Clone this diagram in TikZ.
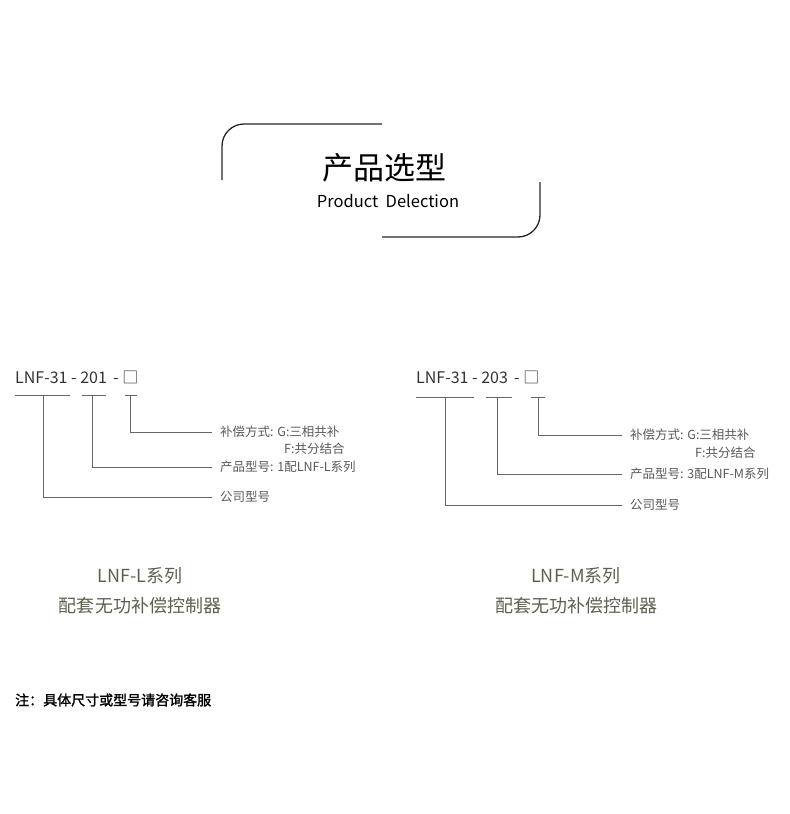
\documentclass[tikz,border=0pt]{standalone}
\usepackage{fontspec}
\setmainfont{Noto Sans CJK SC}
\newfontfamily\cjkb[FakeBold=1.5]{Noto Sans CJK SC}
\begin{document}
\begin{tikzpicture}[x=1bp,y=-1bp,
  lbl/.style={anchor=west,inner sep=0,text=black!65,font=\fontsize{12.5bp}{14bp}\selectfont},
  code/.style={anchor=west,inner sep=0,text=black!80,font=\fontsize{16bp}{18bp}\selectfont},
  captxt/.style={inner sep=0,text={rgb,255:red,95;green,95;blue,80},font=\fontsize{18bp}{20bp}\selectfont},
  ln/.style={draw=black!60,line width=0.6bp},
  frame/.style={draw=black!85,line width=1.3bp}]
\useasboundingbox (0,0) rectangle (790,814);
% title frame
\coordinate (tl) at (222,180);
\coordinate (tr) at (382,124);
\coordinate (br) at (540,182);
\coordinate (bl) at (382,237);
\draw[frame] (tl) -- (222,146) arc[start angle=180,end angle=270,radius=22] -- (tr);
\draw[frame] (br) -- (540,215) arc[start angle=0,end angle=90,radius=22] -- (bl);
\node[inner sep=0,font=\fontsize{31bp}{33bp}\selectfont] (t1) at (384,168) {产品选型};
\node[inner sep=0,font=\fontsize{16.5bp}{18bp}\selectfont] (t2) at (388,201) {Product\ \ Delection};
% left
\node[code] (c1) at (15,377) {LNF-31 - 201 \,- □};
\coordinate (a1) at (43,395); \coordinate (a2) at (92,395); \coordinate (a3) at (130,395);
\draw[ln] (15,395) -- (70,395); \draw[ln] (82,395) -- (106,395); \draw[ln] (125,395) -- (137,395);
\node[lbl] (l3) at (220,432) {补偿方式: G:三相共补};
\node[lbl] (l3b) at (284,449) {F:共分结合};
\node[lbl] (l2) at (220,467) {产品型号: 1配LNF-L系列};
\node[lbl] (l1) at (220,497) {公司型号};
\draw[ln] (a3) |- ([xshift=-8bp]l3.west);
\draw[ln] (a2) |- ([xshift=-8bp]l2.west);
\draw[ln] (a1) |- ([xshift=-8bp]l1.west);
% right
\node[code] (c2) at (416,377) {LNF-31 - 203 \,- □};
\coordinate (b1) at (445,397); \coordinate (b2) at (497,397); \coordinate (b3) at (538,397);
\draw[ln] (416,397) -- (474,397); \draw[ln] (486,397) -- (512,397); \draw[ln] (531,397) -- (545,397);
\node[lbl] (r3) at (630,435) {补偿方式: G:三相共补};
\node[lbl] (r3b) at (695,453) {F:共分结合};
\node[lbl] (r2) at (630,474) {产品型号: 3配LNF-M系列};
\node[lbl] (r1) at (630,505) {公司型号};
\draw[ln] (b3) |- ([xshift=-8bp]r3.west);
\draw[ln] (b2) |- ([xshift=-8bp]r2.west);
\draw[ln] (b1) |- ([xshift=-8bp]r1.west);
% captions
\node[captxt] (k1) at (140,576) {LNF-L系列};
\node[captxt] (k2) at (140,606) {配套无功补偿控制器};
\node[captxt] (k3) at (576,576) {LNF-M系列};
\node[captxt] (k4) at (576,606) {配套无功补偿控制器};
\node[anchor=west,inner sep=0,font=\cjkb\fontsize{14bp}{16bp}\selectfont] (n) at (15,700) {注：具体尺寸或型号请咨询客服};
\end{tikzpicture}
\end{document}
